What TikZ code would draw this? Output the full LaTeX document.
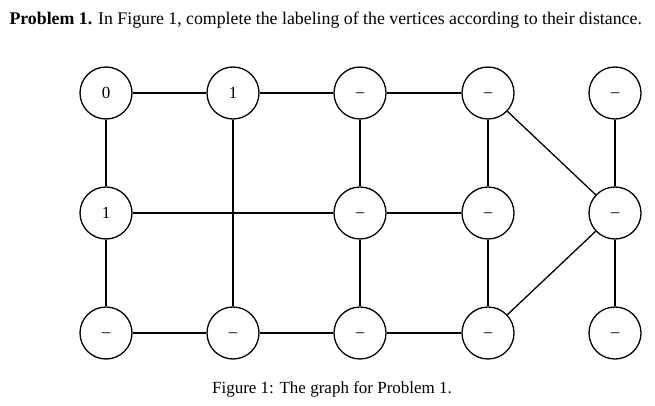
\documentclass[tikz,border=0pt]{standalone}
\usepackage{fontspec}
\setmainfont{Liberation Serif}
\begin{document}
\begin{tikzpicture}[x=1pt,y=-1pt,
 v/.style={circle,draw,line width=1.3pt,minimum size=52pt,inner sep=0pt,font=\fontsize{17}{17}\selectfont},
 e/.style={line width=1.3pt}]
\useasboundingbox (0,0) rectangle (655,406);
\node[anchor=west,font=\fontsize{17.8}{18}\selectfont] (t) at (6,20) {\textbf{Problem 1.} In Figure 1, complete the labeling of the vertices according to their distance.};
\foreach \n/\x/\y/\l in {n11/106/93/0,n21/233/93/1,n31/360/93/\_,n41/488/93/\_,n51/615/93/\_,
 n12/106/213/1,n32/360/213/\_,n42/488/213/\_,n52/615/213/\_,
 n13/106/333/\_,n23/233/333/\_,n33/360/333/\_,n43/488/333/\_,n53/615/333/\_}{
  \node[v] (\n) at (\x,\y) {\l};
 }
\draw[e] (n11)--(n21) (n21)--(n31) (n31)--(n41);
\draw[e] (n11)--(n12) (n12)--(n13);
\draw[e] (n21)--(n23);
\draw[e] (n12)--(n32) (n32)--(n42);
\draw[e] (n31)--(n32) (n32)--(n33);
\draw[e] (n41)--(n42) (n42)--(n43);
\draw[e] (n51)--(n52) (n52)--(n53);
\draw[e] (n41)--(n52) (n43)--(n52);
\draw[e] (n13)--(n23) (n23)--(n33) (n33)--(n43);
\node[font=\fontsize{17}{18}\selectfont] (cap) at (332,389) {Figure 1: The graph for Problem 1.};
\end{tikzpicture}
\end{document}
